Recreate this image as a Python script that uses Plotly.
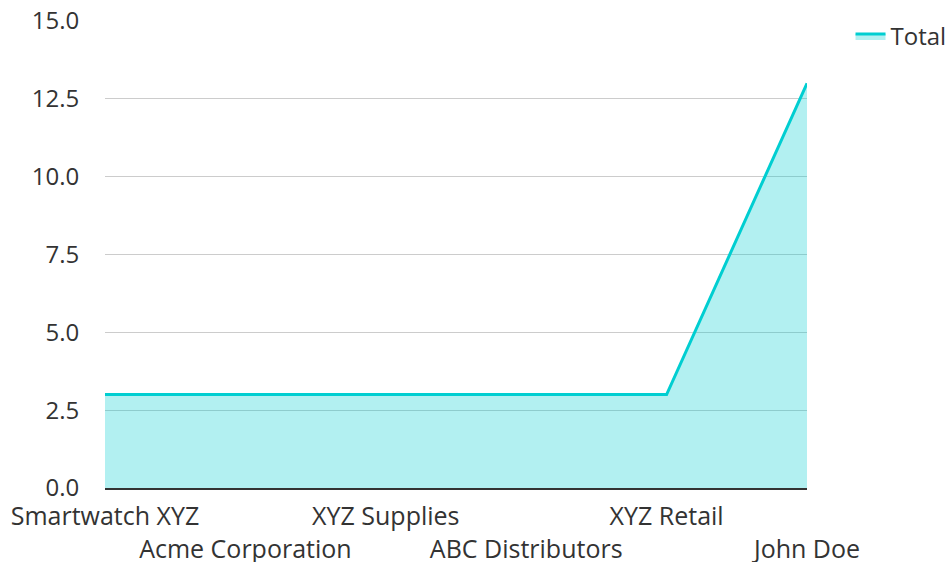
import plotly.graph_objects as go

categories = ["Smartwatch XYZ", "Acme Corporation", "XYZ Supplies",
              "ABC Distributors", "XYZ Retail", "John Doe"]
totals = [3, 3, 3, 3, 3, 13]
y_ticks = [0, 2.5, 5, 7.5, 10, 12.5, 15]
y_tick_labels = ["0.0", "2.5", "5.0", "7.5", "10.0", "12.5", "15.0"]

tick_text = [c if i % 2 == 0 else "<br>" + c for i, c in enumerate(categories)]

fig = go.Figure()
fig.add_trace(go.Scatter(
    x=categories, y=totals, name="Total", mode="lines",
    line=dict(color="#00CED1", width=3),
    fill="tozeroy", fillcolor="rgba(0,206,209,0.3)",
))

fig.update_layout(
    width=948, height=562,
    margin=dict(l=105, r=141, t=21, b=74, autoexpand=False),
    paper_bgcolor="white", plot_bgcolor="white",
    font=dict(family="Open Sans, Noto Sans, sans-serif", size=25, color="#333"),
    showlegend=True,
    legend=dict(x=1.062, y=1.015, xanchor="left", yanchor="top",
                font=dict(size=24, color="#333"), bgcolor="rgba(0,0,0,0)"),
    xaxis=dict(type="category", range=[0, 5], tickmode="array",
               tickvals=categories, ticktext=tick_text, tickangle=0,
               automargin=False, ticklabeloverflow="allow",
               showgrid=False, showline=True, linecolor="#333", linewidth=2,
               ticks="outside", ticklen=5, tickcolor="rgba(0,0,0,0)",
               zeroline=False),
    yaxis=dict(range=[0, 15], tickvals=y_ticks, ticktext=y_tick_labels,
               automargin=False, ticklabeloverflow="allow",
               tickfont=dict(size=24),
               showgrid=True, gridcolor="#ccc", gridwidth=1,
               zeroline=False, showline=False,
               ticks="outside", ticklen=20, tickcolor="rgba(0,0,0,0)"),
)

fig.write_html("out.html",
               config={"displayModeBar": False},
               post_script="document.body.style.margin='0';"
                           "document.body.style.overflow='hidden';")
